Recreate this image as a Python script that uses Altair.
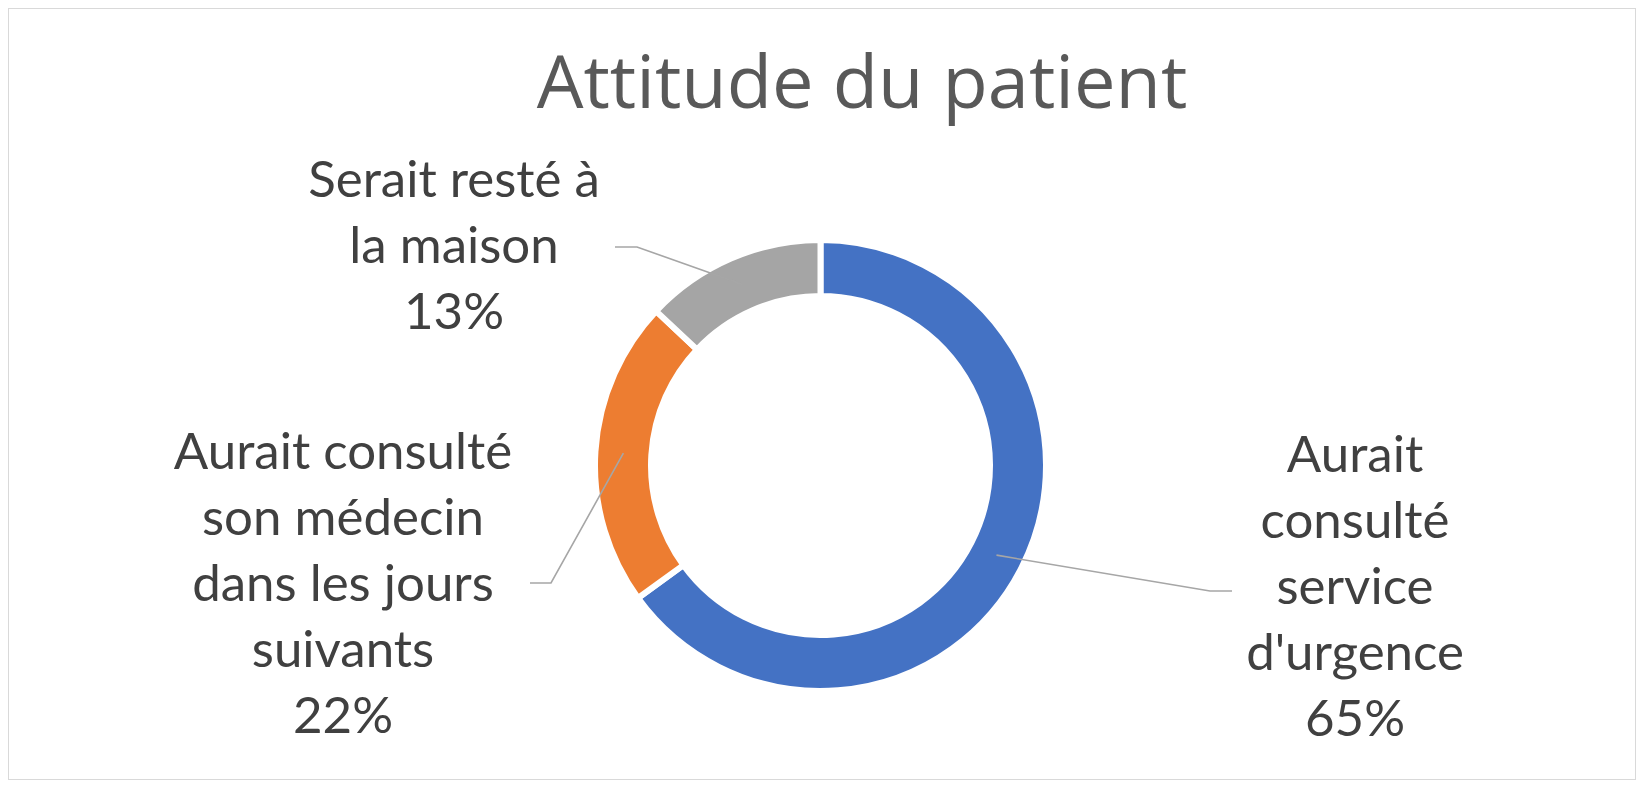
import math
import altair as alt
import pandas as pd

# ---------------- data ----------------
categories = [
    "Aurait consulté service d'urgence",
    "Aurait consulté son médecin dans les jours suivants",
    "Serait resté à la maison",
]
values = [65, 22, 13]
label_lines = [
    ["Aurait", "consulté", "service", "d'urgence"],
    ["Aurait consulté", "son médecin", "dans les jours", "suivants"],
    ["Serait resté à", "la maison"],
]
colors = ["#4472C4", "#ED7D31", "#A5A5A5"]
title_text = "Attitude du patient"

# ---------------- layout (page pixel coordinates) ----------------
W, H = 1628, 772
X0, Y0 = 8, 8
CX, CY = 820.5, 465.5
R_OUT, R_IN = 222.5, 172.5
GAP = 6
R_MID = (R_OUT + R_IN) / 2
label_anchor = [(1355, 472), (343, 469), (454, 197)]      # centre x, first baseline
leader_elbow = [(1210, 591), (551, 583), (637, 247)]
leader_end = [(1232, 591), (530, 583), (615, 247)]
LABEL_FONT = "Lato"
LABEL_SIZE = 51
LINE_H = 66
TITLE_FONT = "Open Sans"
TITLE_SIZE = 74
TITLE_POS = (862, 108)

total = sum(values)
df = pd.DataFrame({"cat": categories, "val": values, "idx": list(range(len(values)))})

# label table
lab_rows = []
for i, (c, v) in enumerate(zip(categories, values)):
    txt = "\n".join(label_lines[i] + [f"{round(100 * v / total)}%"])
    lab_rows.append({"cat": c, "label": txt, "lx": label_anchor[i][0], "ly": label_anchor[i][1]})
lab_df = pd.DataFrame(lab_rows)

# leader lines
lead_rows = []
cum = 0
for i, (c, v) in enumerate(zip(categories, values)):
    frac = (cum + v / 2) / total
    cum += v
    a = 2 * math.pi * frac
    sx, sy = CX + R_MID * math.sin(a), CY - R_MID * math.cos(a)
    pts = [(sx, sy), leader_elbow[i], leader_end[i]]
    for k, (px, py) in enumerate(pts):
        lead_rows.append({"cat": c, "k": k, "px": px, "py": py})
lead_df = pd.DataFrame(lead_rows)

title_df = pd.DataFrame({"t": [title_text], "tx": [TITLE_POS[0]], "ty": [TITLE_POS[1]]})

xs = alt.Scale(domain=[X0, X0 + W], nice=False, zero=False)
ys = alt.Scale(domain=[Y0, Y0 + H], nice=False, zero=False, reverse=True)

donut = alt.Chart(df).mark_arc(
    radius=R_OUT + GAP / 2, radius2=R_IN - GAP / 2, stroke="white", strokeWidth=GAP
).encode(
    theta=alt.Theta("val:Q", stack=True),
    order=alt.Order("idx:Q"),
    color=alt.Color("cat:N", scale=alt.Scale(domain=categories, range=colors), legend=None),
    x=alt.value(CX - X0),
    y=alt.value(CY - Y0),
)

leaders = alt.Chart(lead_df).mark_line(color="#A6A6A6", strokeWidth=1.6).encode(
    x=alt.X("px:Q", scale=xs, axis=None),
    y=alt.Y("py:Q", scale=ys, axis=None),
    detail="cat:N",
    order="k:Q",
)

labels = alt.Chart(lab_df).mark_text(
    font=LABEL_FONT, fontSize=LABEL_SIZE, color="#404040", align="center",
    baseline="alphabetic", lineBreak="\n", lineHeight=LINE_H,
).encode(
    x=alt.X("lx:Q", scale=xs, axis=None),
    y=alt.Y("ly:Q", scale=ys, axis=None),
    text="label:N",
)

title = alt.Chart(title_df).mark_text(
    font=TITLE_FONT, fontSize=TITLE_SIZE, color="#595959", align="center", baseline="alphabetic",
).encode(
    x=alt.X("tx:Q", scale=xs, axis=None),
    y=alt.Y("ty:Q", scale=ys, axis=None),
    text="t:N",
)

chart = alt.layer(donut, leaders, labels, title).properties(
    width=W, height=H, padding=0, autosize=alt.AutoSizeParams(type="none"),
    background="white",
).configure_view(stroke="#D9D9D9", strokeWidth=2)

chart.save("out.html", embed_options={"renderer": "svg", "actions": False})
